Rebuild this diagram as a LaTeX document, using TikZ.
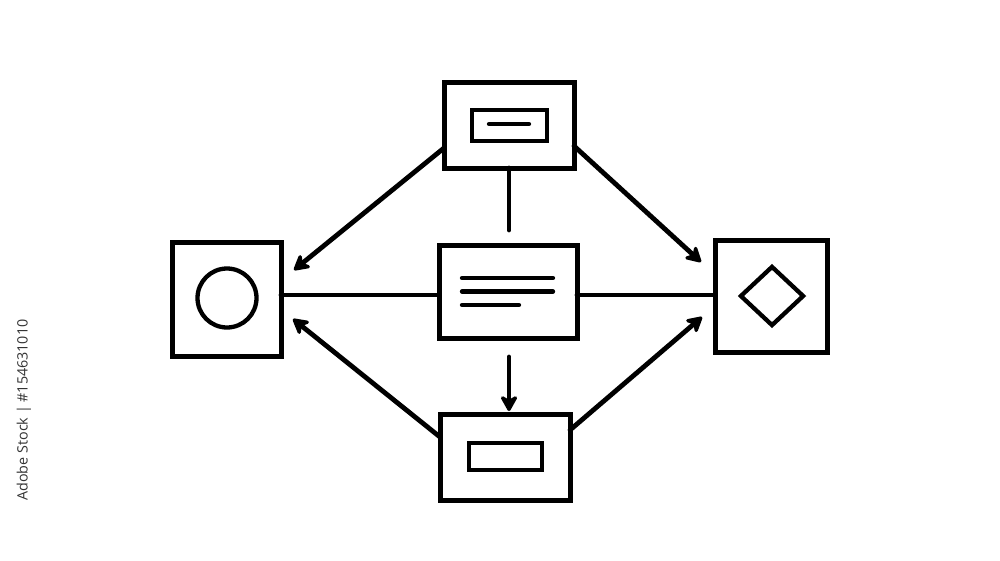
\documentclass[tikz,border=0pt]{standalone}
\usepackage{fontspec}
\setsansfont{Open Sans}
\usetikzlibrary{arrows.meta,calc,shapes.geometric}
\tikzset{
  box/.style={draw=black,line width=5pt,fill=white,inner sep=0pt,outer sep=0pt,line join=miter},
  inner/.style={draw=black,line width=4pt,inner sep=0pt,outer sep=0pt},
  conn/.style={line width=4.8pt,line cap=round},
  arr/.style={conn,-{Stealth[length=19pt,width=21pt,inset=6pt,round]}},
  stroke/.style={line width=4.3pt,line cap=round},
}
\begin{document}
\begin{tikzpicture}[x=1pt,y=-1pt]
\useasboundingbox[fill=white] (0,0) rectangle (1000,560);
% watermark id
\node[rotate=90,text=black!80,font=\sffamily\fontsize{14.3}{17}\selectfont] (wm) at (24,410) {Adobe Stock | \#154631010};
% boxes
\node[box,minimum width=130pt,minimum height=86pt] (top) at (509,125) {};
\node[box,minimum width=109pt,minimum height=114pt] (left) at (226.5,299) {};
\node[box,minimum width=138pt,minimum height=93pt] (mid) at (508,291.5) {};
\node[box,minimum width=112pt,minimum height=112pt] (right) at (771,296) {};
\node[box,minimum width=130pt,minimum height=86pt] (bot) at (505,457) {};
% inner contents
\node[inner,minimum width=75pt,minimum height=31pt] (topin) at (509,125) {};
\draw[stroke] (489,124) -- (529,124);
\node[inner,minimum width=73pt,minimum height=27pt] (botin) at (505,456) {};
\node[draw=black,line width=4.3pt,circle,minimum size=59pt,inner sep=0pt] (circ) at (227,298) {};
\node[draw=black,line width=4.3pt,diamond,minimum width=64pt,minimum height=60pt,inner sep=0pt,line join=miter] (dia) at (772,296) {};
\draw[stroke] (462,278) -- (553,278);
\draw[stroke] (462,291.5) -- (553,291.5);
\draw[stroke] (462,305) -- (519,305);
% free ends
\coordinate (vEnd) at (509,230);
\coordinate (dStart) at (509,357);
\coordinate (dTip) at (509,411);
\coordinate (tlTip) at (294,270);
\coordinate (trTip) at (701,262);
\coordinate (blTip) at (293,319);
\coordinate (brTip) at (702,317);
% connectors
\draw[conn] (top.south) -- (vEnd);
\draw[conn] ([yshift=4pt]left.east) -- ([yshift=-3.5pt]mid.west);
\draw[conn] ([yshift=-3.5pt]mid.east) -- ([yshift=1pt]right.west);
\draw[arr] (dStart) -- (dTip);
\draw[arr] ([yshift=-23pt]top.west) -- (tlTip);
\draw[arr] ([yshift=-21pt]top.east) -- (trTip);
\draw[arr] ([yshift=20pt]bot.west) -- (blTip);
\draw[arr] ([yshift=27pt]bot.east) -- (brTip);
\end{tikzpicture}
\end{document}
